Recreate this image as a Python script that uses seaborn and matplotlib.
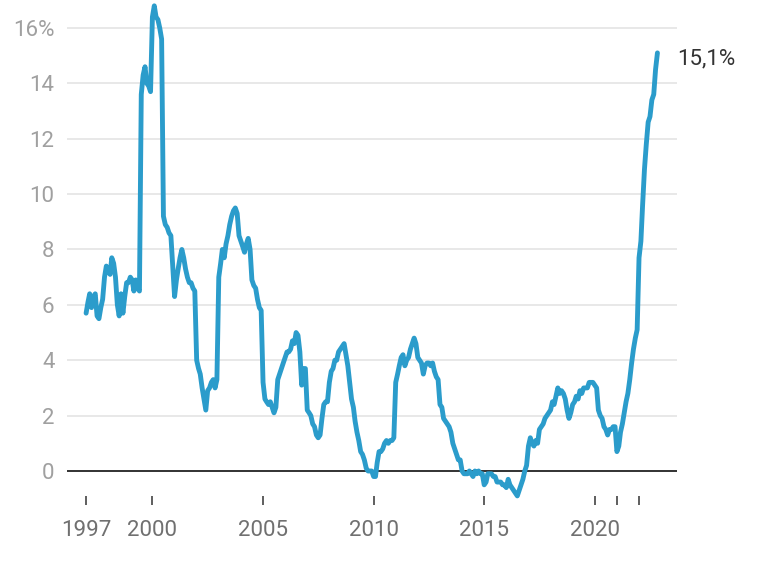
import pandas as pd
import matplotlib.pyplot as plt
import seaborn as sns

# medzirocna inflacia (%), mesacne, jan 1997 - nov 2022
months = pd.date_range("1997-01-01", "2022-11-01", freq="MS")
rate = [
    5.7, 6.1, 6.4, 5.9, 6.3, 6.4, 5.6, 5.5, 5.9, 6.2, 7.0, 7.4,            # 1997
    7.2, 7.1, 7.7, 7.5, 7.0, 6.0, 5.6, 6.4, 5.7, 6.3, 6.8, 6.8,            # 1998
    7.0, 6.9, 6.5, 6.9, 6.6, 6.5, 13.6, 14.3, 14.6, 14.0, 13.9, 13.7,      # 1999
    16.4, 16.8, 16.4, 16.3, 16.0, 15.6, 9.2, 8.9, 8.8, 8.6, 8.5, 7.4,      # 2000
    6.3, 6.9, 7.3, 7.7, 8.0, 7.7, 7.3, 7.0, 6.8, 6.8, 6.6, 6.5,            # 2001
    4.0, 3.7, 3.5, 3.0, 2.6, 2.2, 2.9, 3.0, 3.2, 3.3, 3.0, 3.3,            # 2002
    7.0, 7.5, 8.0, 7.7, 8.2, 8.5, 8.9, 9.2, 9.4, 9.5, 9.3, 8.5,            # 2003
    8.3, 8.1, 7.9, 8.2, 8.4, 8.0, 6.9, 6.7, 6.6, 6.2, 5.9, 5.8,            # 2004
    3.2, 2.6, 2.5, 2.4, 2.5, 2.3, 2.1, 2.3, 3.3, 3.5, 3.7, 3.9,            # 2005
    4.1, 4.3, 4.3, 4.4, 4.7, 4.6, 5.0, 4.9, 4.3, 3.1, 3.7, 3.7,            # 2006
    2.2, 2.1, 2.0, 1.7, 1.6, 1.3, 1.2, 1.3, 1.9, 2.4, 2.5, 2.5,            # 2007
    3.2, 3.6, 3.7, 4.0, 4.0, 4.3, 4.4, 4.5, 4.6, 4.2, 3.8, 3.2,            # 2008
    2.6, 2.3, 1.8, 1.4, 1.1, 0.7, 0.6, 0.4, 0.1, 0.0, 0.0, 0.0,            # 2009
    -0.2, -0.2, 0.3, 0.7, 0.7, 0.8, 1.0, 1.1, 1.0, 1.1, 1.1, 1.2,          # 2010
    3.2, 3.5, 3.8, 4.1, 4.2, 3.8, 4.0, 4.1, 4.4, 4.6, 4.8, 4.6,            # 2011
    4.1, 4.0, 3.9, 3.5, 3.8, 3.9, 3.9, 3.8, 3.9, 3.6, 3.4, 3.3,            # 2012
    2.4, 2.3, 1.9, 1.8, 1.7, 1.6, 1.4, 1.0, 0.8, 0.6, 0.4, 0.4,            # 2013
    0.0, -0.1, -0.1, -0.1, 0.0, -0.1, -0.2, 0.0, -0.1, 0.0, -0.1, -0.1,    # 2014
    -0.5, -0.4, -0.1, -0.1, -0.1, -0.2, -0.2, -0.4, -0.4, -0.4, -0.5, -0.5,  # 2015
    -0.6, -0.3, -0.5, -0.6, -0.7, -0.8, -0.9, -0.7, -0.5, -0.3, 0.0, 0.2,  # 2016
    0.9, 1.2, 1.0, 0.9, 1.1, 1.0, 1.5, 1.6, 1.7, 1.9, 2.0, 2.1,            # 2017
    2.2, 2.5, 2.4, 2.7, 3.0, 2.8, 2.9, 2.8, 2.6, 2.2, 1.9, 2.1,            # 2018
    2.4, 2.5, 2.7, 2.6, 2.9, 2.8, 3.0, 3.0, 3.0, 3.2, 3.2, 3.2,            # 2019
    3.1, 3.0, 2.2, 2.0, 1.9, 1.6, 1.5, 1.3, 1.5, 1.5, 1.6, 1.6,            # 2020
    0.7, 0.9, 1.4, 1.7, 2.1, 2.5, 2.8, 3.3, 3.9, 4.4, 4.8, 5.1,            # 2021
    7.7, 8.3, 9.6, 10.9, 11.8, 12.6, 12.8, 13.4, 13.6, 14.5, 15.1,         # 2022
]

tick_years = [1997, 2000, 2005, 2010, 2015, 2020, 2021, 2022]
tick_labels = ["1997", "2000", "2005", "2010", "2015", "2020", "", ""]
y_ticks = [0, 2, 4, 6, 8, 10, 12, 14, 16]
y_labels = ["0", "2", "4", "6", "8", "10", "12", "14", "16%"]
last_label = "15,1%"

df = pd.DataFrame({"mesiac": months, "inflacia": rate})

sns.set_style("white")
plt.rcParams["font.family"] = ["Roboto", "DejaVu Sans"]

fig = plt.figure(figsize=(7.68, 5.79), dpi=100)
ax = fig.add_axes([0.0872, 0.1435, 0.7943, 0.8565])

ax.set_ylim(-0.9, 17.01)
ax.set_xlim(pd.Timestamp("1996-02-20"), pd.Timestamp("2023-09-20"))

ax.set_yticks(y_ticks)
ax.set_yticklabels(y_labels)
ax.yaxis.grid(True, color="#e4e4e4", linewidth=1.2)
ax.xaxis.grid(False)
ax.axhline(0, color="#333333", linewidth=1.4, zorder=3)

sns.lineplot(data=df, x="mesiac", y="inflacia", ax=ax, color="#2b9ccb",
             linewidth=3.5, clip_on=False, zorder=4)
for l in ax.lines:
    l.set_solid_joinstyle("round")
    l.set_solid_capstyle("round")

ax.set_xticks([pd.Timestamp(f"{y}-01-01") for y in tick_years])
ax.set_xticklabels(tick_labels)

ax.tick_params(axis="y", length=0, pad=9, labelsize=16, labelcolor="#a0a0a0")
ax.tick_params(axis="x", direction="out", length=6.5, width=1.1, color="#333333",
               pad=11, labelsize=16, labelcolor="#707070", bottom=True)

ax.annotate(last_label, xy=(df["mesiac"].iloc[-1], df["inflacia"].iloc[-1]),
            xytext=(14, -4), textcoords="offset points", ha="left", va="center",
            fontsize=16, color="#333333")

ax.set_xlabel("")
ax.set_ylabel("")
sns.despine(left=True, bottom=True, top=True, right=True)

fig.savefig("out.png", dpi=100)
